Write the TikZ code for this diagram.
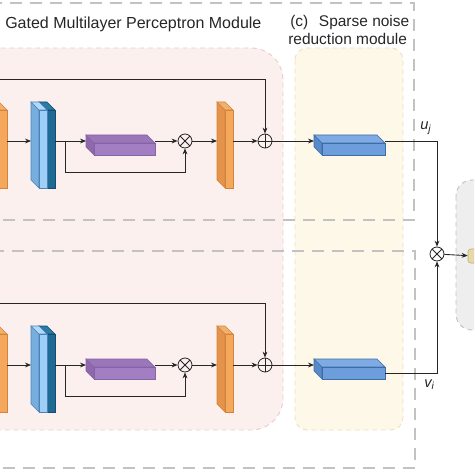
\documentclass[tikz,border=0pt]{standalone}
\usepackage{fontspec}
\setmainfont{Liberation Sans}
\usepackage{xcolor}
\usetikzlibrary{arrows.meta}

\definecolor{PinkBg}{HTML}{FCF0EF}
\definecolor{PinkEdge}{HTML}{E8CDCB}
\definecolor{SandBg}{HTML}{FDF8E8}
\definecolor{SandEdge}{HTML}{ECE0BE}
\definecolor{FogBg}{HTML}{EEEEEE}
\definecolor{FogEdge}{HTML}{C2C2C2}
\definecolor{Frame}{HTML}{C2C2C2}
\definecolor{Tan}{HTML}{EAD6A6}
\definecolor{OraFront}{HTML}{F5A75C}
\definecolor{OraSide}{HTML}{E5934A}
\definecolor{OraTop}{HTML}{F2B06C}
\definecolor{OraEdge}{HTML}{D0843C}
\definecolor{SkyFront}{HTML}{9ED0F7}
\definecolor{SkySide}{HTML}{78AEDD}
\definecolor{SkyTop}{HTML}{B0DAF8}
\definecolor{SkyEdge}{HTML}{4C82B5}
\definecolor{DarkFront}{HTML}{1E6A95}
\definecolor{DarkSide}{HTML}{1E6A95}
\definecolor{DarkTop}{HTML}{2A7BA8}
\definecolor{DarkEdge}{HTML}{134E6E}
\definecolor{LavFront}{HTML}{A27EC2}
\definecolor{LavSide}{HTML}{8E6AAD}
\definecolor{LavTop}{HTML}{9A76BA}
\definecolor{LavEdge}{HTML}{8763A5}
\definecolor{CobFront}{HTML}{6D9EDB}
\definecolor{CobSide}{HTML}{5889C9}
\definecolor{CobTop}{HTML}{7EABE3}
\definecolor{CobEdge}{HTML}{3E6DA6}

\tikzset{
	frame/.style={draw=Frame, line width=2.2pt, dash pattern=on 9pt off 6pt},
	region/.style={line width=0.7pt, dash pattern=on 3.5pt off 3pt},
	flow/.style={line width=0.65pt, draw=black!85, -{Stealth[length=4.5pt,width=3.6pt]}},
	label/.style={anchor=base west, inner sep=0pt, text=black!85},
	mul/.style={circle, draw=black!85, line width=0.6pt, minimum size=10.5pt, inner sep=0pt,
		path picture={\draw[line width=0.6pt] (path picture bounding box.north west) -- (path picture bounding box.south east)
			(path picture bounding box.south west) -- (path picture bounding box.north east);}},
	add/.style={circle, draw=black!85, line width=0.6pt, minimum size=10.5pt, inner sep=0pt,
		path picture={\draw[line width=0.6pt] (path picture bounding box.north) -- (path picture bounding box.south)
			(path picture bounding box.west) -- (path picture bounding box.east);}},
}

% box seen from the upper left: name, front x0, y0, x1, y1, depth, colour set
\newcommand{\cuboid}[7]{%
	\filldraw[fill=#7Side, draw=#7Edge, line width=0.4pt] (#2,#3) -- ({(#2)-(#6)},{(#3)-(#6)}) -- ({(#2)-(#6)},{(#5)-(#6)}) -- (#2,#5) -- cycle;
	\filldraw[fill=#7Top, draw=#7Edge, line width=0.4pt] (#2,#3) -- ({(#2)-(#6)},{(#3)-(#6)}) -- ({(#4)-(#6)},{(#3)-(#6)}) -- (#4,#3) -- cycle;
	\node[draw=#7Edge, fill=#7Front, line width=0.4pt, inner sep=0pt, outer sep=0pt,
		minimum width={((#4)-(#2))*0.75pt}, minimum height={((#5)-(#3))*0.75pt}]
		(#1) at ({((#2)+(#4))/2},{((#3)+(#5))/2}) {};
	\coordinate (#1-in) at ({(#2)-(#6)},{((#3)+(#5))/2-(#6)});
	\coordinate (#1-out) at ({#4},{((#3)+(#5))/2-(#6)});
}

\begin{document}
\begin{tikzpicture}[x=0.75pt, y=-0.75pt, font=\fontsize{12}{14}\selectfont]
	\useasboundingbox (0,0) rectangle (474,474);
	\clip (0,0) rectangle (474,474);
	% shaded modules
	\filldraw[region, fill=PinkBg, draw=PinkEdge, rounded corners=24pt] (-40,48) rectangle (283,430);
	\filldraw[region, fill=SandBg, draw=SandEdge, rounded corners=9pt] (295,48) rectangle (403,430);
	\filldraw[region, fill=FogBg, draw=FogEdge, rounded corners=12pt] (456,180) rectangle (520,330);
	\draw[frame] (-20,3) rectangle (414,220);
	\draw[frame] (-20,251) rectangle (415,468);
	\node[label] (title) at (5,29) {Gated Multilayer Perceptron Module};
	\node[label, font=\fontsize{11.6}{14}\selectfont] (secA) at (290,27) {(c)\hspace{8pt}Sparse noise};
	\node[label, font=\fontsize{11.6}{14}\selectfont] (secB) at (288,45) {reduction module};

	% upper branch
	\cuboid{oraAu}{-1}{110}{7}{188}{8}{Ora}
	\cuboid{bluDu}{47}{110}{55}{188}{8}{Dark}
	\cuboid{bluLu}{39}{110}{47}{188}{8}{Sky}
	\cuboid{purU}{94}{143}{155}{155}{8}{Lav}
	\cuboid{oraBu}{225}{110}{233}{188}{8}{Ora}
	\cuboid{flatU}{322}{143}{385}{155}{8}{Cob}
	\node[mul] (mulU) at (185,141) {};
	\node[add] (addU) at (265,141) {};
	\coordinate (skipU) at (-5,79);
	\coordinate (gateU) at (65,141);
	\draw[flow] (oraAu-out) -- (bluLu-in);
	\draw[flow] (bluDu-out) -- (purU-in);
	\draw[flow] (purU-out) -- (mulU);
	\draw[flow] (mulU) -- (oraBu-in);
	\draw[flow] (oraBu-out) -- (addU);
	\draw[flow] (addU) -- (flatU-in);
	\draw[flow] (skipU) -| (addU);
	\draw[flow] (gateU) -- ++(0,31) -| (mulU);

	% lower branch
	\cuboid{oraAl}{-1}{334}{7}{412}{8}{Ora}
	\cuboid{bluDl}{47}{334}{55}{412}{8}{Dark}
	\cuboid{bluLl}{39}{334}{47}{412}{8}{Sky}
	\cuboid{purL}{94}{367}{155}{379}{8}{Lav}
	\cuboid{oraBl}{225}{334}{233}{412}{8}{Ora}
	\cuboid{flatL}{322}{367}{385}{379}{8}{Cob}
	\node[mul] (mulL) at (185,365) {};
	\node[add] (addL) at (265,365) {};
	\coordinate (skipL) at (-5,303);
	\coordinate (gateL) at (65,365);
	\draw[flow] (oraAl-out) -- (bluLl-in);
	\draw[flow] (bluDl-out) -- (purL-in);
	\draw[flow] (purL-out) -- (mulL);
	\draw[flow] (mulL) -- (oraBl-in);
	\draw[flow] (oraBl-out) -- (addL);
	\draw[flow] (addL) -- (flatL-in);
	\draw[flow] (skipL) -| (addL);
	\draw[flow] (gateL) -- ++(0,31) -| (mulL);

	% fusion of the two branches
	\node[mul] (mulR) at (437,254) {};
	\node[fill=Tan, draw=Tan!80!black, rounded corners=2pt, minimum width=9pt, minimum height=10.5pt] (fuse) at (474,256) {};
	\draw[flow] (flatU-out) -| (mulR);
	\draw[flow] (flatL.east) -| (mulR);
	\draw[flow] (mulR) -- (fuse);
	\node[label, font=\fontsize{11}{13}\selectfont\itshape] (uLab) at (420,130) {u\textsubscript{j}};
	\node[label, font=\fontsize{11}{13}\selectfont\itshape] (vLab) at (424,387) {v\textsubscript{i}};
\end{tikzpicture}
\end{document}
